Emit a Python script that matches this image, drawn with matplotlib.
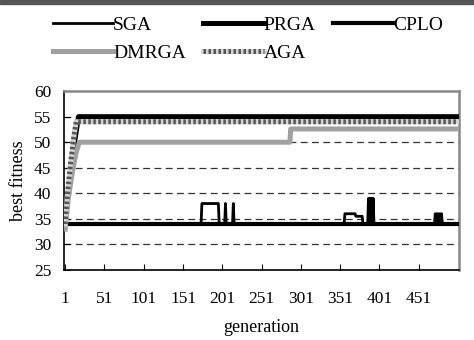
import matplotlib
matplotlib.use("Agg")
from matplotlib import pyplot as plt
from matplotlib.patches import Rectangle
from matplotlib.legend_handler import HandlerTuple

plt.rcParams['font.family'] = ['Liberation Serif', 'DejaVu Serif']

# breakpoints (generation, best fitness)
sga_gen = [1, 174, 175, 196, 197, 204, 205, 206, 214, 215, 216,
           356, 357, 370, 371, 379, 380,
           386, 387, 388, 389, 390, 391, 392, 393, 394,
           471, 472, 473, 474, 475, 476, 477, 478, 479, 480, 481, 500]
sga_val = [34, 34, 38, 38, 34, 34, 38, 34, 34, 38, 34,
           34, 36, 36, 35.5, 35.5, 34,
           34, 39, 34, 39, 34, 39, 34, 39, 34,
           34, 36, 34, 36, 34, 36, 34, 36, 34, 36, 34, 34]

prga_gen = [1, 4, 8, 12, 16, 18, 500]
prga_val = [34, 39, 44, 49, 53, 55, 55]

cplo_gen = [1, 500]
cplo_val = [34, 34]

dmrga_gen = [1, 5, 10, 15, 19, 287, 288, 500]
dmrga_val = [33, 39, 44, 48, 50, 50, 52.6, 52.6]

aga_gen = [1, 4, 8, 12, 15, 500]
aga_val = [34, 40, 46, 51, 54, 54]

xticks = [1, 51, 101, 151, 201, 251, 301, 351, 401, 451]
yticks = [25, 30, 35, 40, 45, 50, 55, 60]

fig = plt.figure(figsize=(4.74, 3.4), dpi=100)
ax = fig.add_axes([0.135, 0.206, 0.833, 0.526])

for y in [30, 35, 40, 45, 50, 55]:
    ax.axhline(y, color='#333333', lw=0.9, dashes=(5.5, 3.5), zorder=1)

l_sga, = ax.plot(sga_gen, sga_val, color='black', lw=2.0, zorder=3)
l_prga, = ax.plot(prga_gen, prga_val, color='black', lw=3.6, zorder=3)
l_cplo, = ax.plot(cplo_gen, cplo_val, color='black', lw=3.0, zorder=3)
l_dm, = ax.plot(dmrga_gen, dmrga_val, color='#a0a0a0', lw=3.6, zorder=4)
l_aga1, = ax.plot(aga_gen, aga_val, color='#d4d4d4', lw=3.6, zorder=5)
l_aga2, = ax.plot(aga_gen, aga_val, color='#555555', lw=3.6, dashes=(0.5, 0.5), zorder=5)

ax.set_xlim(-0.5, 502)
ax.set_ylim(25, 60)
ax.set_xticks(xticks)
ax.set_yticks(yticks)
ax.tick_params(axis='x', direction='in', length=4, pad=15, labelsize=12.5)
ax.tick_params(axis='y', direction='in', length=4, pad=9, labelsize=12.5)
for side in ['left', 'bottom']:
    ax.spines[side].set_color('black')
    ax.spines[side].set_linewidth(1.2)
for side in ['top', 'right']:
    ax.spines[side].set_color('#888888')
    ax.spines[side].set_linewidth(1.8)

ax.set_xlabel('generation', fontsize=13, labelpad=9)
ax.set_ylabel('best fitness', fontsize=13, labelpad=5)

handles = [l_sga, l_dm, l_prga, (l_aga1, l_aga2), l_cplo]
labels = ['SGA', 'DMRGA', 'PRGA', 'AGA', 'CPLO']
fig.legend(handles, labels, ncol=3, loc='upper left', bbox_to_anchor=(0.095, 0.975),
           frameon=False, fontsize=14, handlelength=3.1, handletextpad=0.0,
           columnspacing=0.9, labelspacing=0.55, borderaxespad=0,
           handler_map={tuple: HandlerTuple(ndivide=1, pad=0)})

fig.patches.append(Rectangle((0, 1 - 4 / 340), 1, 4 / 340, transform=fig.transFigure,
                             color='#555555', zorder=0))

fig.savefig('out.png', dpi=100)
